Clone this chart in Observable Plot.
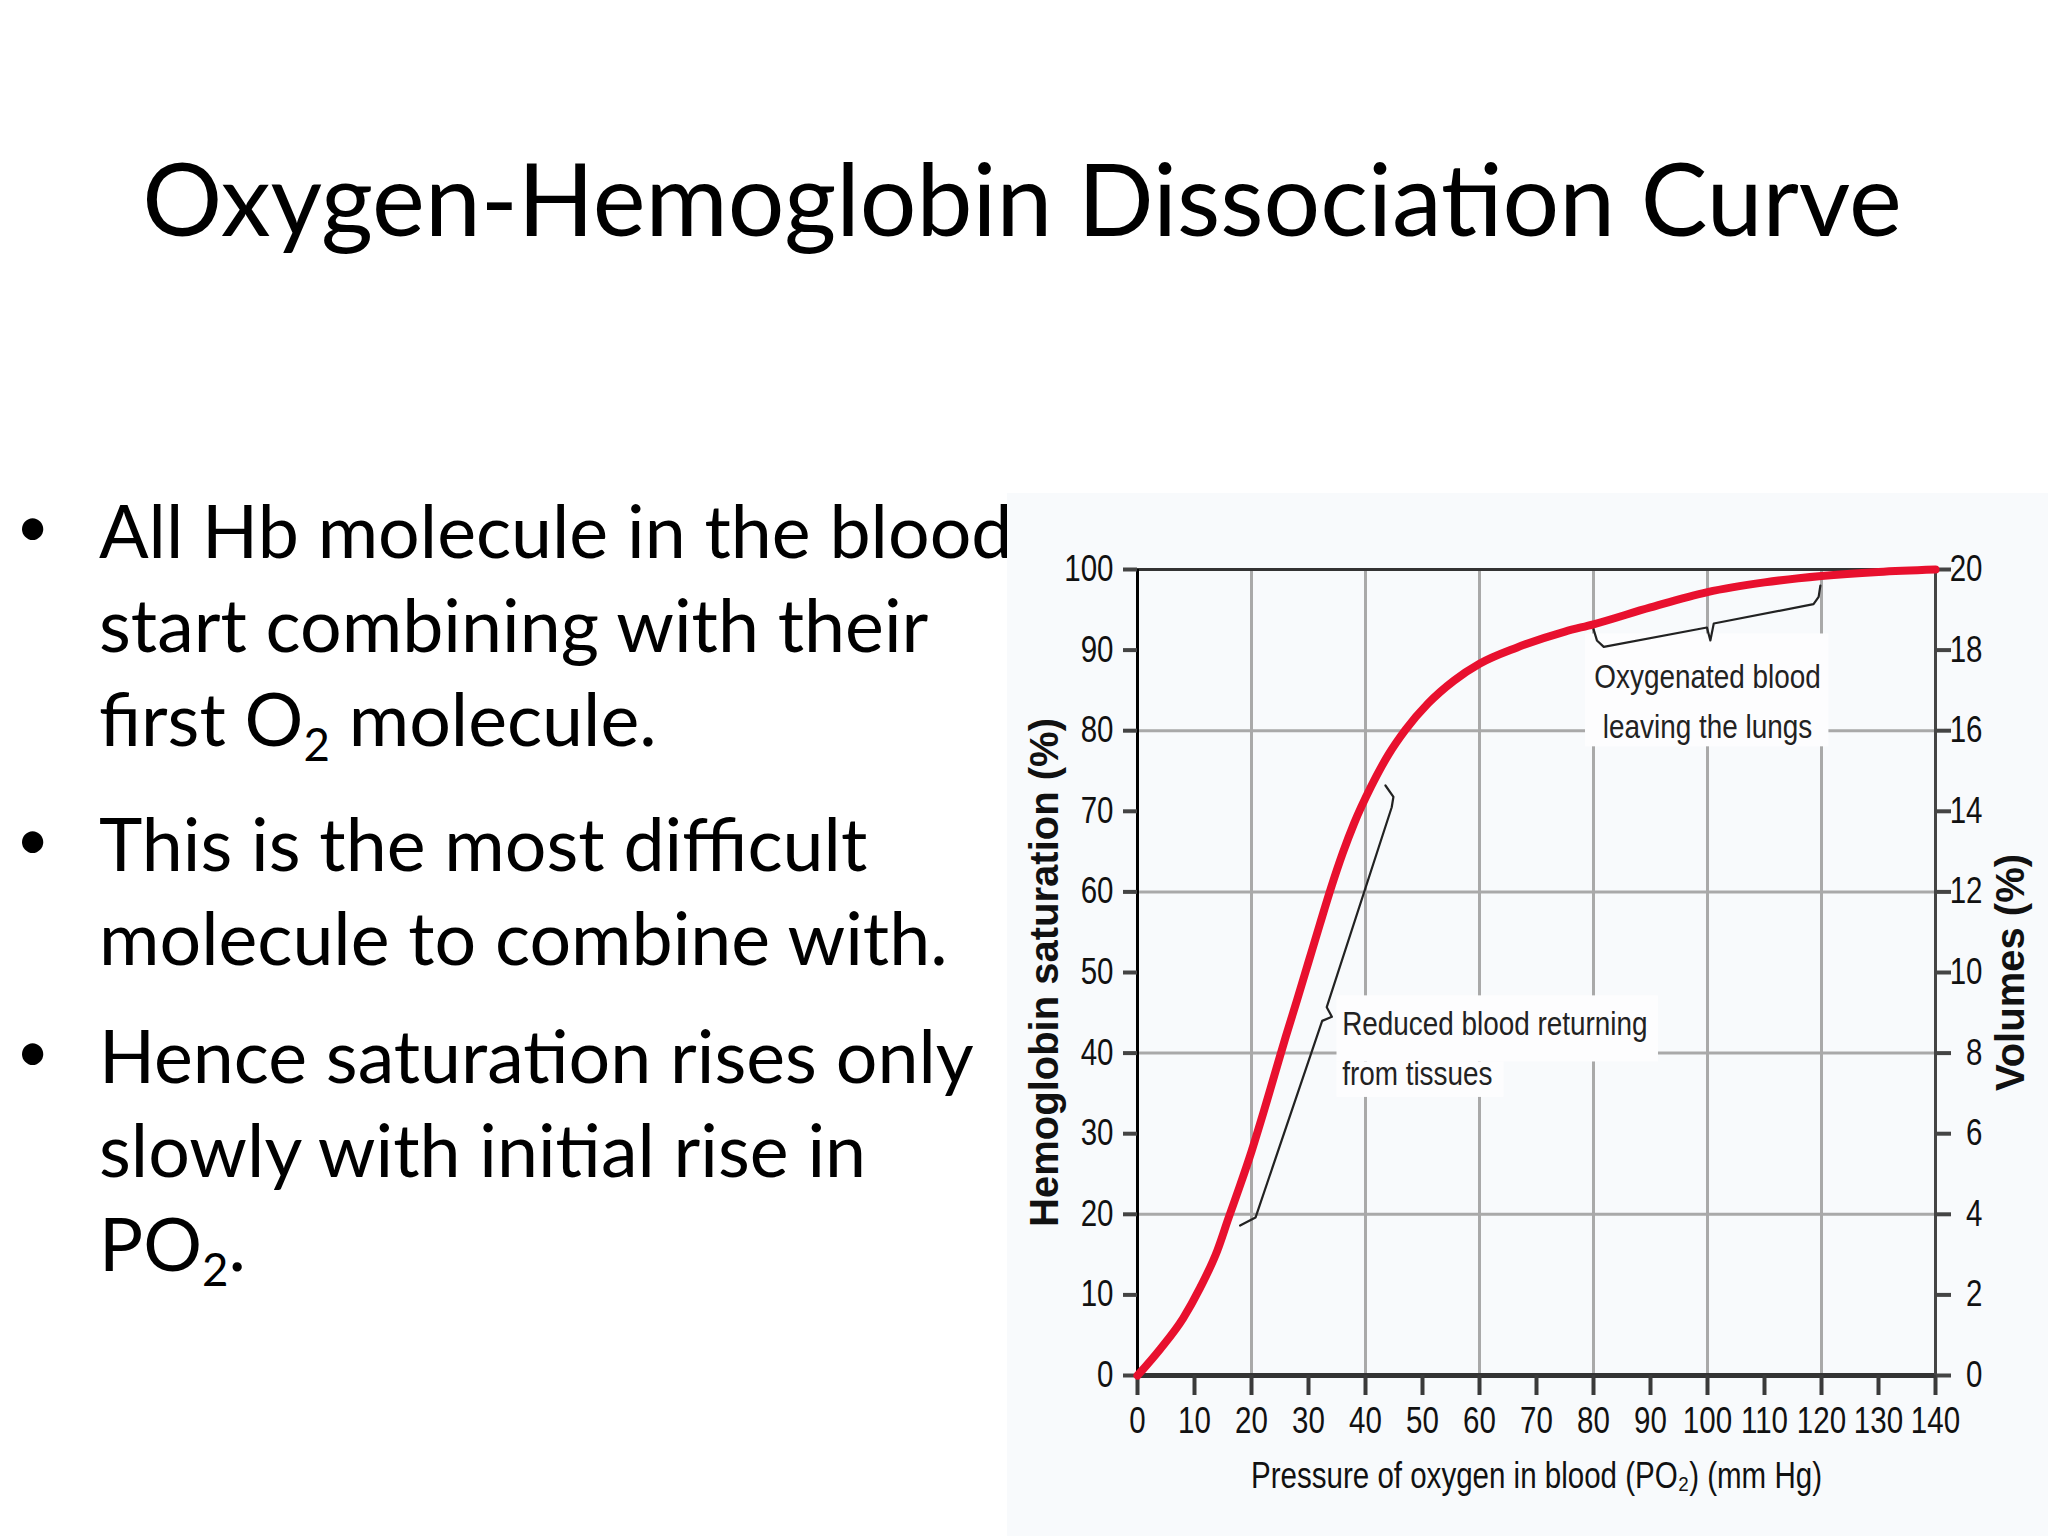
<!DOCTYPE html>
<html>
<head>
<meta charset="utf-8">
<script src="https://cdn.jsdelivr.net/npm/d3@7"></script>
<script src="https://cdn.jsdelivr.net/npm/@observablehq/plot@0.6"></script>
<style>
  html, body { margin: 0; padding: 0; }
  body { width: 2048px; height: 1536px; background: #ffffff; position: relative; overflow: hidden; }
  #title { position: absolute; left: 0; top: 147px; width: 2044px; text-align: center;
           font-family: Lato, "Open Sans", sans-serif; font-size: 100px; line-height: 100px; color: #000; white-space: nowrap; }
  #bullets { position: absolute; left: 0; top: 483px; font-family: Lato, "Open Sans", sans-serif;
             font-size: 73.5px; line-height: 94px; color: #000; white-space: nowrap; }
  .p { position: relative; padding-left: 99px; }
  .p1 { margin-bottom: 31px; }
  .p2 { margin-bottom: 24px; }
  .p::before { content: "\2022"; position: absolute; left: 16px; top: -5px; font-size: 0.78em; }
  .sub { font-size: 0.62em; position: relative; top: 0.32em; line-height: 0; }
  #chart { position: absolute; left: 1007px; top: 493px; }
</style>
</head>
<body>
<div id="title">Oxygen-Hemoglobin Dissociation Curve</div>
<div id="bullets">
  <div class="p p1">All Hb molecule in the blood<br>start combining with their<br>first O<span class="sub">2</span> molecule.</div>
  <div class="p p2">This is the most difficult<br>molecule to combine with.</div>
  <div class="p">Hence saturation rises only<br>slowly with initial rise in<br>PO<span class="sub">2</span>.</div>
</div>
<div id="chart"></div>
<script>
// ---- data ----
const po2 = [0, 4, 8, 11, 14, 16, 18, 20, 22, 24, 26, 28, 30, 32, 34, 36, 38, 41, 44, 47, 51, 55.5, 60, 66.5, 75, 80, 90, 100, 110, 120, 130, 140];
const saturation = [0, 3.3, 7.1, 10.9, 15.5, 19.6, 23.6, 27.8, 32.4, 37.2, 42.0, 46.6, 51.3, 56.0, 60.6, 64.8, 68.5, 73.1, 77.0, 80.1, 83.4, 86.2, 88.3, 90.3, 92.3, 93.2, 95.3, 97.2, 98.4, 99.2, 99.7, 100];

const xTicks = [0, 10, 20, 30, 40, 50, 60, 70, 80, 90, 100, 110, 120, 130, 140];
const yTicks = [0, 10, 20, 30, 40, 50, 60, 70, 80, 90, 100];
const volumeTicks = [0, 2, 4, 6, 8, 10, 12, 14, 16, 18, 20];
const xGrid = [20, 40, 60, 80, 100, 120];
const yGrid = [20, 40, 60, 80];

// annotation braces (data units)
const oxyBraceX = [80.0, 80.6, 81.8, 99.9, 100.5, 101.1, 118.6, 119.5, 119.8];
const oxyBraceY = [92.6, 91.2, 90.4, 92.8, 91.2, 93.3, 95.7, 96.6, 98.0];
const redBraceX = [43.5, 44.9, 44.6, 33.2, 34.1, 32.4, 20.7, 18.0];
const redBraceY = [73.2, 71.8, 70.5, 45.7, 44.5, 44.0, 19.6, 18.6];

// annotation labels and their backing boxes (data units)
const oxyLines = ["Oxygenated blood", "leaving the lungs"];
const oxyX = [100, 100];
const oxyY = [86.6, 80.4];
const redLines = ["Reduced blood returning", "from tissues"];
const redX = [35.9, 35.9];
const redY = [43.6, 37.4];
const boxX1 = [78.6, 35.0, 35.0];
const boxX2 = [121.3, 91.4, 64.3];
const boxY1 = [78.0, 38.9, 34.5];
const boxY2 = [92.0, 47.1, 38.9];

const yLabel = "Hemoglobin saturation (%)";
const xLabel = "Pressure of oxygen in blood (PO\u2082) (mm Hg)";
const rightLabel = "Volumes (%)";

// ---- build tables ----
const curve = po2.map((x, i) => ({x, y: saturation[i]}));
const oxyBrace = oxyBraceX.map((x, i) => ({x, y: oxyBraceY[i]}));
const redBrace = redBraceX.map((x, i) => ({x, y: redBraceY[i]}));
const oxyAnno = oxyLines.map((t, i) => ({text: t, x: oxyX[i], y: oxyY[i]}));
const redAnno = redLines.map((t, i) => ({text: t, x: redX[i], y: redY[i]}));
const boxes = boxX1.map((x1, i) => ({x1, x2: boxX2[i], y1: boxY1[i], y2: boxY2[i]}));

const sans = "'Liberation Sans', Arial, sans-serif";

const chart = Plot.plot({
  width: 1041,
  height: 1043,
  marginLeft: 130,
  marginRight: 113,
  marginTop: 76,
  marginBottom: 161,
  style: {background: "#f8fafc", fontFamily: sans, fontSize: "36px", color: "#111"},
  x: {domain: [0, 140]},
  y: {domain: [0, 100]},
  marks: [
    Plot.gridX(xGrid, {stroke: "#a9a9a9", strokeOpacity: 1, strokeWidth: 3}),
    Plot.gridY(yGrid, {stroke: "#a9a9a9", strokeOpacity: 1, strokeWidth: 3}),
    Plot.rect(boxes, {x1: "x1", x2: "x2", y1: "y1", y2: "y2", fill: "#fdfdfe"}),
    Plot.ruleY([100], {stroke: "#333", strokeWidth: 3}),
    Plot.ruleY([0], {stroke: "#333", strokeWidth: 5}),
    Plot.ruleX([0], {stroke: "#000", strokeWidth: 3}),
    Plot.ruleX([140], {stroke: "#444", strokeWidth: 3}),
    Plot.axisX(xTicks, {anchor: "bottom", tickSize: 20, tickPadding: 12, stroke: "#3a3a3a", strokeWidth: 4, fill: "#111", label: null}),
    Plot.axisY(yTicks, {anchor: "left", tickSize: 14, tickPadding: 10, stroke: "#444", strokeWidth: 4, fill: "#111", label: null}),
    Plot.axisY(volumeTicks.map(v => v * 5), {anchor: "right", tickFormat: d => d / 5, tickSize: 15, tickPadding: 32, textAnchor: "end", stroke: "#444", strokeWidth: 4, fill: "#111", label: null}),
    Plot.line(oxyBrace, {x: "x", y: "y", stroke: "#222", strokeWidth: 2.2}),
    Plot.line(redBrace, {x: "x", y: "y", stroke: "#222", strokeWidth: 2.2}),
    Plot.line(curve, {x: "x", y: "y", stroke: "#e8102e", strokeWidth: 8, curve: "monotone-x"}),
    Plot.text(oxyAnno, {x: "x", y: "y", text: "text", textAnchor: "middle", lineAnchor: "middle", fontSize: 34, fill: "#222"}),
    Plot.text(redAnno, {x: "x", y: "y", text: "text", textAnchor: "start", lineAnchor: "middle", fontSize: 34, fill: "#222"}),
    Plot.text([yLabel], {text: d => d, frameAnchor: "left", rotate: -90, dx: -92, textAnchor: "middle", lineAnchor: "middle", fontWeight: "bold", fontSize: 40, fill: "#111"}),
    Plot.text([rightLabel], {text: d => d, frameAnchor: "right", rotate: -90, dx: 76, textAnchor: "middle", lineAnchor: "middle", fontWeight: "bold", fontSize: 40, fill: "#111"}),
    Plot.text([xLabel], {text: d => d, frameAnchor: "bottom", dy: 101, textAnchor: "middle", lineAnchor: "middle", fontSize: 36, fill: "#111"})
  ]
});
document.getElementById("chart").appendChild(chart);

// Condense the non-bold texts horizontally (the reference uses a narrow sans face)
chart.querySelectorAll("text").forEach(t => {
  if (t.closest('[font-weight="bold"]')) return;
  if (t.querySelector("tspan")) return;
  const len = t.getComputedTextLength();
  if (len > 0) {
    t.setAttribute("textLength", (len * 0.82).toFixed(1));
    t.setAttribute("lengthAdjust", "spacingAndGlyphs");
  }
});
</script>
</body>
</html>
